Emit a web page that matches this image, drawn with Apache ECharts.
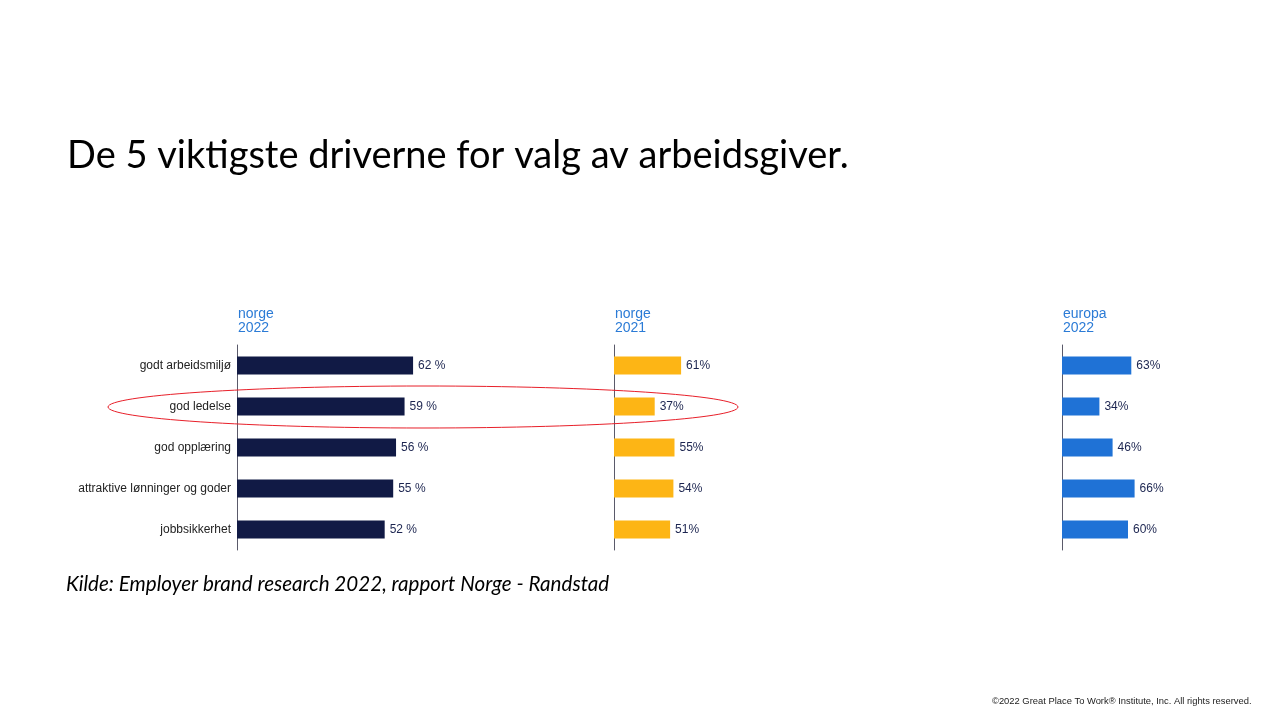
<!DOCTYPE html>
<html lang="no">
  <head>
    <meta charset="UTF-8" />
    <title>De 5 viktigste driverne for valg av arbeidsgiver</title>
    <script src="https://cdn.jsdelivr.net/npm/echarts@6/dist/echarts.min.js"></script>
    <style>
      html, body { margin: 0; padding: 0; background: #fff; }
      #main { width: 1280px; height: 720px; }
    </style>
  </head>
  <body>
    <div id="main"></div>
    <script>
      var categories = [
        "godt arbeidsmiljø",
        "god ledelse",
        "god opplæring",
        "attraktive lønninger og goder",
        "jobbsikkerhet"
      ];
      var norge2022 = [62, 59, 56, 55, 52];
      var norge2021 = [61, 37, 55, 54, 51];
      var europa2022 = [63, 34, 46, 66, 60];
      var headers = ["norge\n2022", "norge\n2021", "europa\n2022"];

      var chart = echarts.init(document.getElementById("main"));

      var TOP = 345, H = 205;
      var grids = [
        { left: 237, top: TOP, width: 284, height: H },
        { left: 614, top: TOP, width: 110, height: H },
        { left: 1062, top: TOP, width: 110, height: H }
      ];
      var colors = ["#111a45", "#fdb515", "#1f72d6"];
      var seriesData = [norge2022, norge2021, europa2022];
      var labelFmt = [
        function (p) { return p.value + " %"; },
        function (p) { return p.value + "%"; },
        function (p) { return p.value + "%"; }
      ];

      var option = {
        animation: false,
        backgroundColor: "#fff",
        title: [
          {
            text: "De 5 viktigste driverne for valg av arbeidsgiver.",
            left: 62,
            top: 132,
            textStyle: { fontFamily: "Lato", fontWeight: "normal", fontSize: 38, color: "#000" }
          },
          {
            text: "Kilde: Employer brand research 2022, rapport Norge - Randstad",
            left: 61,
            top: 569,
            textStyle: { fontFamily: "Lato", fontStyle: "italic", fontWeight: "normal", fontSize: 20.6, color: "#000" }
          },
          {
            text: "©2022 Great Place To Work® Institute, Inc. All rights reserved.",
            left: 987,
            top: 692,
            textStyle: { fontFamily: "Liberation Sans", fontWeight: "normal", fontSize: 9.4, color: "#222" }
          }
        ].concat(headers.map(function (h, i) {
          return {
            text: h,
            left: grids[i].left - 4,
            top: 302,
            textStyle: { fontFamily: "Liberation Sans", fontWeight: "normal", fontSize: 14, lineHeight: 14, color: "#2b7bd6" }
          };
        })),
        grid: grids,
        xAxis: grids.map(function (g, i) {
          return {
            type: "value", gridIndex: i, min: 0, max: 100, show: false
          };
        }),
        yAxis: grids.map(function (g, i) {
          return {
            type: "category",
            gridIndex: i,
            data: categories,
            inverse: true,
            axisLine: { show: true, lineStyle: { color: "#5a5a6a", width: 1 } },
            axisTick: { show: false },
            axisLabel: {
              show: i === 0,
              margin: 6,
              fontFamily: "Liberation Sans",
              fontSize: 12,
              color: "#222"
            }
          };
        }),
        series: seriesData.map(function (d, i) {
          return {
            type: "bar",
            xAxisIndex: i,
            yAxisIndex: i,
            data: d,
            barWidth: 18,
            itemStyle: { color: colors[i] },
            label: {
              show: true,
              position: "right",
              distance: 5,
              formatter: labelFmt[i],
              fontFamily: "Liberation Sans",
              fontSize: 12,
              color: "#1c2550"
            }
          };
        }),
        graphic: [
          {
            type: "ellipse",
            shape: { cx: 423, cy: 407, rx: 315, ry: 21 },
            style: { fill: "none", stroke: "#e8202a", lineWidth: 1 },
            z: 100
          }
        ]
      };
      chart.setOption(option);
    </script>
  </body>
</html>
